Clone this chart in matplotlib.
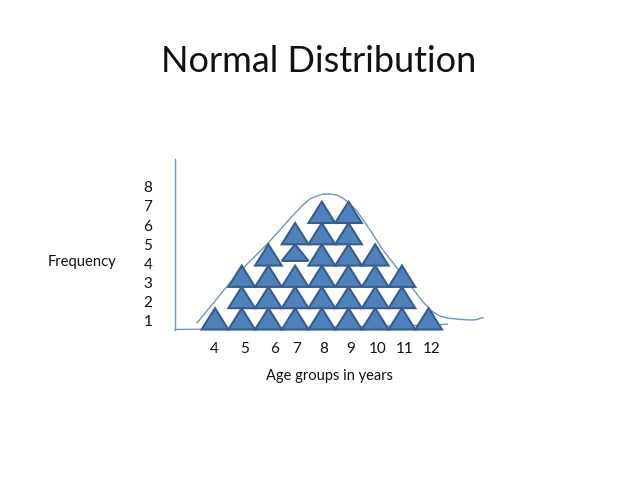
# Normal distribution slide: stacked triangles under a hand drawn curve
import matplotlib
matplotlib.use("Agg")
import matplotlib.pyplot as plt
from matplotlib.patches import Polygon

# number of triangles stacked for each age group
ages = [4, 5, 6, 7, 8, 9, 10, 11, 12]
rows = {
    1: [4, 5, 6, 7, 8, 9, 10, 11, 12],
    2: [5, 6, 7, 8, 9, 10, 11],
    3: [5, 6, 7, 8, 9, 10, 11],
    4: [6, 8, 9, 10],
    5: [7, 8, 9],
    6: [8, 9],
}
# the squashed triangle at age 7, under row 5
squashed_age = 7
squashed_base = 3.22
squashed_top = 4.0

# curve, in age / frequency units
curve_x = [3.33, 4.49, 5.24, 5.99, 6.70, 7.00, 7.30, 7.56, 7.82, 8.04, 8.31, 8.57, 8.79, 9.06,
           9.32, 9.81, 10.29, 10.82, 11.30, 11.79, 12.16, 12.43, 12.69, 13.06, 13.44, 13.74, 14.04]
curve_y = [0.31, 2.09, 3.12, 4.06, 5.05, 5.47, 5.85, 6.13, 6.27, 6.36, 6.36, 6.31, 6.17, 5.89,
           5.56, 4.67, 3.73, 2.89, 2.09, 1.29, 0.82, 0.63, 0.54, 0.49, 0.45, 0.45, 0.56]

# axis lines, same units
yaxis_x = [2.5, 2.5]
yaxis_y = [0, 8.0]
xaxis_x = [2.5, 4.0, 12.0, 12.7]
xaxis_y = [0, 0.02, 0.2, 0.25]

freq_labels = ["1", "2", "3", "4", "5", "6", "7", "8"]
freq_pos = [322, 303, 284, 265, 246, 227, 207, 188]
age_labels = ["4", "5", "6", "7", "8", "9", "10", "11", "12"]
age_pos = [214, 245, 275, 297, 324, 351, 378, 405, 432]

W, H = 638, 478
FONT = "Lato"
FILL = "#4F81BD"
EDGE = "#385D8A"
LINE = "#6F95C6"

fig = plt.figure(figsize=(W / 100, H / 100), dpi=100)
ax = fig.add_axes([0, 0, 1, 1])
ax.axis("off")

# 1 age = 26.7 px with age 4 at x=215, 1 row = 21.3 px with the floor at y=329.5
ax.set_xlim(4 - 215 / 26.7, 4 + (W - 215) / 26.7)
ax.set_ylim(-(H - 329.5) / 21.3, 329.5 / 21.3)

ax.plot(yaxis_x, yaxis_y, color=LINE, lw=1, zorder=1)
ax.plot(xaxis_x, xaxis_y, color=LINE, lw=1, zorder=1)
ax.plot(curve_x, curve_y, color=LINE, lw=1, zorder=1, solid_joinstyle="round")

def triangle(x, y0, y1):
    ax.add_patch(Polygon([(x - 0.5, y0), (x + 0.5, y0), (x, y1)], closed=True,
                         facecolor=FILL, edgecolor=EDGE, lw=1.5, zorder=2))

triangle(squashed_age, squashed_base, squashed_top)
for level, row in rows.items():
    for age in row:
        triangle(age, level - 1, level)

def label(px, py, s, size):
    fig.text(px / W, 1 - py / H, s, ha="center", va="center", fontsize=size,
             family=FONT, color="#111111")

label(319, 62, "Normal Distribution", 26)
label(82, 262, "Frequency", 10.6)
label(329, 376, "Age groups in years", 10.5)
for p, s in zip(freq_pos, freq_labels):
    label(148, p, s, 11)
for p, s in zip(age_pos, age_labels):
    label(p, 349, s, 11)

fig.savefig("out.png", dpi=100)
